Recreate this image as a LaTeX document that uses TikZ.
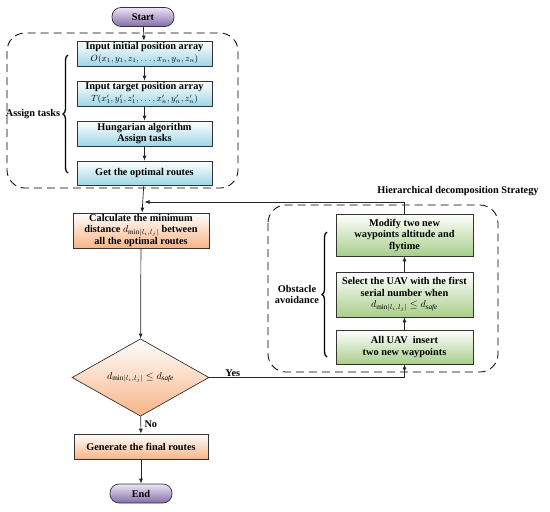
\documentclass[tikz,border=0pt]{standalone}
\usepackage{fontspec}
\setmainfont{Liberation Serif}
\usetikzlibrary{shapes.geometric,arrows.meta,decorations.pathreplacing}

\definecolor{termtop}{RGB}{236,230,244}
\definecolor{termbot}{RGB}{132,108,168}
\definecolor{bluebot}{RGB}{158,214,230}
\definecolor{orangebot}{RGB}{248,180,134}
\definecolor{greenbot}{RGB}{168,206,138}

\tikzset{
  base/.style={draw=black!80, line width=0.7pt, align=center, inner sep=1pt,
    font=\fontsize{10.3}{11.5}\selectfont\bfseries},
  termbox/.style={base, rounded corners=9pt, minimum width=62pt, minimum height=19pt,
    top color=termtop, bottom color=termbot},
  bluebox/.style={base, minimum width=135pt, minimum height=25pt,
    top color=white, bottom color=bluebot},
  orangebox/.style={base, minimum width=136pt, minimum height=25pt,
    top color=white, bottom color=orangebot},
  greenbox/.style={base, minimum width=137pt, minimum height=34pt,
    top color=white, bottom color=greenbot},
  decision/.style={base, diamond, minimum width=137pt, minimum height=71pt, inner sep=0pt,
    top color=white, bottom color=orangebot},
  groupbox/.style={draw=black, line width=0.8pt, dash pattern=on 8pt off 5pt, rounded corners=18pt},
  flow/.style={-{Latex[length=5pt,width=4pt]}, draw=black!85, line width=0.7pt},
  bracetext/.style={font=\fontsize{10.3}{11.5}\selectfont\bfseries, align=center}
}

\begin{document}
\begin{tikzpicture}[x=1pt,y=-1pt]
  \useasboundingbox (0,0) rectangle (550,512);

  % Dashed groups
  \draw[groupbox] (7,33) rectangle (238,188);
  \draw[groupbox] (268,205) rectangle (498,372);
  \node[bracetext] (hds) at (458,191) {Hierarchical decomposition Strategy};

  % Main flow
  \node[termbox] (start) at (143,17) {Start};
  \node[bluebox] (init) at (144.5,53.5) {Input initial position array\\[0.5pt]
    \mdseries\small$O(x_1,y_1,z_1,\ldots,x_n,y_n,z_n)$};
  \node[bluebox] (target) at (144.5,93.5) {Input target position array\\[0.5pt]
    \mdseries\small$T(x_1',y_1',z_1',\ldots,x_n',y_n',z_n')$};
  \node[bluebox] (hung) at (144.5,133.5) {Hungarian algorithm\\Assign tasks};
  \node[bluebox, minimum height=24pt] (optimal) at (144.5,173) {Get the optimal routes};
  \node[orangebox, minimum height=35pt] (calc) at (141,230.5) {Calculate the minimum\\
    distance $d_{\mathrm{min}|l_i,l_j|}$ between\\all the optimal routes};
  \node[decision] (check) at (140.5,377.5) {$d_{\mathrm{min}|l_i,l_j|}\leq d_{\mathit{safe}}$};
  \node[orangebox, minimum width=134pt] (final) at (141,446.5) {Generate the final routes};
  \node[termbox] (end) at (141,493.5) {End};

  % Obstacle avoidance flow
  \node[greenbox, minimum height=42pt] (modify) at (404.5,235) {Modify two new\\
    waypoints altitude and\\flytime};
  \node[greenbox, minimum height=45pt] (select) at (404.5,294.5) {Select the UAV with the first\\
    serial number when\\$d_{\mathrm{min}|l_i,l_j|}\leq d_{\mathit{safe}}$};
  \node[greenbox] (insert) at (404.5,347) {All UAV\ \ insert\\two new waypoints};

  % Connectors
  \draw[flow] (start) -- (init);
  \draw[flow] (init) -- (target);
  \draw[flow] (target) -- (hung);
  \draw[flow] (hung) -- (optimal);
  \draw[flow] (optimal) -- (calc);
  \draw[flow] (calc) -- (check);
  \draw[flow] (check) -- node[right, bracetext, pos=0.45] {No} (final);
  \draw[flow] (final) -- (end);
  \draw[flow] (check.east) -- node[above, bracetext, pos=0.12, inner sep=1pt] {Yes}
    (check.east -| insert.south) -- (insert.south);
  \draw[flow] (insert) -- (select);
  \draw[flow] (select) -- (modify);
  \coordinate (back) at (optimal.south |- 0,202);
  \draw[flow] (modify.north) |- (back);

  % Braces
  \draw[decorate, decoration={brace, amplitude=5pt, mirror}, line width=1.3pt]
    (68,55) -- (68,173) node[midway, left=4pt, bracetext] (assign) {Assign tasks};
  \draw[decorate, decoration={brace, amplitude=5pt, mirror}, line width=1.3pt]
    (327,232) -- (327,357) node[midway, left=4pt, bracetext] (obst) {Obstacle\\avoidance};
\end{tikzpicture}
\end{document}
